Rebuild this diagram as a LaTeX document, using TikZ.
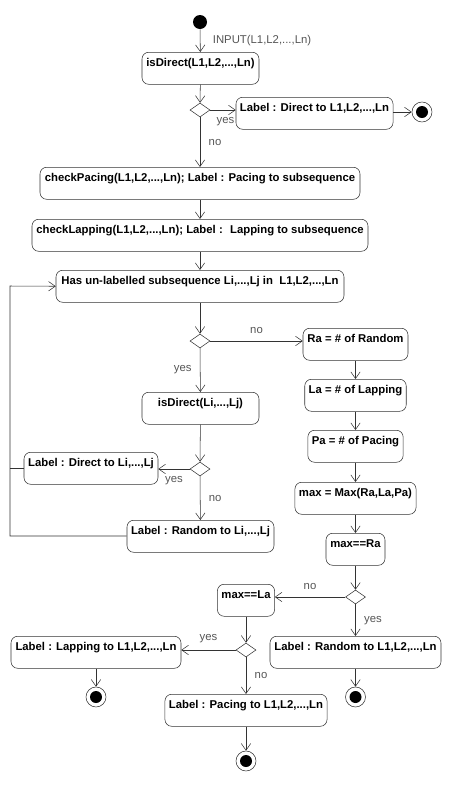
\documentclass[tikz,border=0pt]{standalone}
\usepackage{fontspec}
\setmainfont{Liberation Sans}
\usetikzlibrary{arrows.meta,shapes.geometric}
\definecolor{linegray}{HTML}{333333}
\definecolor{labgray}{HTML}{555555}
\tikzset{
  act/.style={draw=linegray, rounded corners=5pt, anchor=north, font=\fontsize{8.5}{10}\selectfont\bfseries,
    inner xsep=3pt, inner ysep=3pt, text height=8pt, text depth=10pt},
  choice/.style={diamond, draw=linegray, aspect=1.4, minimum width=15pt, minimum height=10.5pt, inner sep=0pt},
  startnode/.style={circle, fill=black, minimum size=10.5pt, inner sep=0pt},
  endnode/.style={circle, draw=linegray, minimum size=15pt, inner sep=0pt,
    path picture={\fill (path picture bounding box.center) circle (4.5pt);}},
  lab/.style={text=labgray, font=\fontsize{8.5}{10}\selectfont},
  flow/.style={draw=linegray, ->}
}
\begin{document}
\begin{tikzpicture}[x=0.75pt, y=-0.75pt, >={Straight Barb[length=5pt,width=7pt]}]
\useasboundingbox (0,0) rectangle (474,797);
% main column
\node[startnode] (start) at (200,22) {};
\node[act, minimum width=117*0.75pt] (isd1) at (200.5,52) {isDirect(L1,L2,...,Ln)};
\node[choice] (d1) at (200,110) {};
\node[act, minimum width=157*0.75pt] (dirall) at (314.5,97) {Label : Direct to L1,L2,...,Ln};
\node[endnode] (e1) at (422,112) {};
\node[act, minimum width=320*0.75pt] (pacing) at (200,167) {checkPacing(L1,L2,...,Ln); Label : Pacing to subsequence};
\node[act, minimum width=336*0.75pt] (lapping) at (200,219) {checkLapping(L1,L2,...,Ln); Label :~ Lapping to subsequence};
\node[act, minimum width=288*0.75pt] (has) at (200,270) {Has un-labelled subsequence Li,...,Lj in~ L1,L2,...,Ln};
\node[choice] (d2) at (200,341) {};
\node[act, minimum width=117*0.75pt] (isd2) at (200.5,392) {isDirect(Li,...,Lj)};
\node[choice] (d3) at (200,469) {};
\node[act, minimum width=134*0.75pt] (dirli) at (91,452) {Label : Direct to Li,...,Lj};
\node[act, minimum width=147*0.75pt] (randli) at (200.5,520) {Label : Random to Li,...,Lj};
\coordinate (loopb) at (10,536);
\coordinate (loopt) at (10,286);
% right column
\node[act, minimum width=105*0.75pt] (ra) at (355.5,328) {Ra = \# of Random};
\node[act, minimum width=101*0.75pt] (la) at (355.5,379) {La = \# of Lapping};
\node[act, minimum width=95*0.75pt] (pa) at (355.5,430) {Pa = \# of Pacing};
\node[act, minimum width=121*0.75pt] (max) at (355.5,482) {max = Max(Ra,La,Pa)};
\node[act, minimum width=59*0.75pt] (maxra) at (355.5,533) {max==Ra};
\node[choice] (d4) at (355.5,597) {};
\node[act, minimum width=171*0.75pt] (randall) at (355.5,636) {Label : Random to L1,L2,...,Ln};
\node[endnode] (e2) at (355.5,697) {};
\node[act, minimum width=57*0.75pt] (maxla) at (246,584) {max==La};
\node[choice] (d5) at (246,650) {};
\node[act, minimum width=170*0.75pt] (lapall) at (96,636) {Label : Lapping to L1,L2,...,Ln};
\node[endnode] (e3) at (96,697) {};
\node[act, minimum width=162*0.75pt] (pacall) at (246,694) {Label : Pacing to L1,L2,...,Ln};
\node[endnode] (e4) at (246,761) {};
% connectors
\draw[flow] (start) -- node[lab, right=6pt] {INPUT(L1,L2,...,Ln)} (isd1);
\draw[flow] (isd1) -- (d1);
\draw[flow] (d1.east) -- node[lab, pos=0.6, below=2pt] {yes} (d1.east -| dirall.west);
\draw[flow] (dirall.east |- e1) -- (e1);
\draw[flow] (d1) -- node[lab, right=3pt] {no} (pacing);
\draw[flow] (pacing) -- (lapping);
\draw[flow] (lapping) -- (has);
\draw[flow] (has) -- (d2);
\draw[flow] (d2.east) -- node[lab, above=2pt] {no} (d2.east -| ra.west);
\draw[flow] (d2) -- node[lab, left=3pt] {yes} (isd2);
\draw[flow] (isd2) -- (d3);
\draw[flow] (d3.west) -- node[lab, below=2pt] {yes} (d3.west -| dirli.east);
\draw[flow] (d3) -- node[lab, right=3pt] {no} (randli);
\draw[linegray] (dirli.west) -- (dirli.west -| loopb);
\draw[flow] (randli.west |- loopb) -- (loopb) -- (loopt) -- (has.west);
\draw[flow] (ra) -- (la);
\draw[flow] (la) -- (pa);
\draw[flow] (pa) -- (max);
\draw[flow] (max) -- (maxra);
\draw[flow] (maxra) -- (d4);
\draw[flow] (d4.west) -- node[lab, above=2pt] {no} (d4.west -| maxla.east);
\draw[flow] (d4) -- node[lab, right=3pt] {yes} (randall);
\draw[flow] (randall) -- (e2);
\draw[flow] (maxla) -- (d5);
\draw[flow] (d5.west) -- node[lab, above=2pt] {yes} (d5.west -| lapall.east);
\draw[flow] (d5) -- node[lab, right=3pt] {no} (pacall);
\draw[flow] (lapall) -- (e3);
\draw[flow] (pacall) -- (e4);
\end{tikzpicture}
\end{document}
